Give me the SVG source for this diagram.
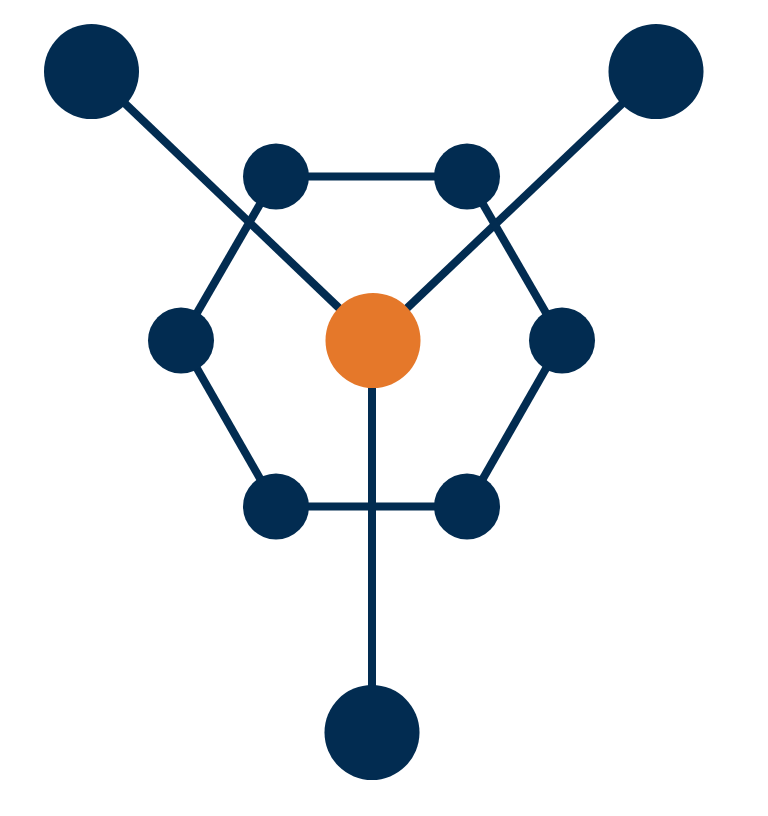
<svg xmlns="http://www.w3.org/2000/svg" width="768" height="816" viewBox="0 0 768 816">
<style>
.e{stroke:#022C51;stroke-width:8;fill:none}
.n{fill:#022C51}
.c{fill:#E5782A}
</style>
<rect width="768" height="816" fill="#ffffff"/>
<g id="connectors">
<line class="e" x1="91.5" y1="71.5" x2="373" y2="340.5"/>
<line class="e" x1="656" y1="71.5" x2="373" y2="340.5"/>
<line class="e" x1="372" y1="340.5" x2="372" y2="732.5"/>
<line class="e" x1="276" y1="176.5" x2="467" y2="176.5"/>
<line class="e" x1="467" y1="176.5" x2="562" y2="340.5"/>
<line class="e" x1="562" y1="340.5" x2="467" y2="506.5"/>
<line class="e" x1="467" y1="506.5" x2="276" y2="506.5"/>
<line class="e" x1="276" y1="506.5" x2="181" y2="340.5"/>
<line class="e" x1="181" y1="340.5" x2="276" y2="176.5"/>
</g>
<g id="n-tl"><circle class="n" cx="91.5" cy="71.5" r="47.5"/></g>
<g id="n-tr"><circle class="n" cx="656" cy="71.5" r="47.5"/></g>
<g id="n-bottom"><circle class="n" cx="372" cy="732.5" r="47.5"/></g>
<g id="n-h1"><circle class="n" cx="276" cy="176.5" r="33"/></g>
<g id="n-h2"><circle class="n" cx="467" cy="176.5" r="33"/></g>
<g id="n-h3"><circle class="n" cx="562" cy="340.5" r="33"/></g>
<g id="n-h4"><circle class="n" cx="467" cy="506.5" r="33"/></g>
<g id="n-h5"><circle class="n" cx="276" cy="506.5" r="33"/></g>
<g id="n-h6"><circle class="n" cx="181" cy="340.5" r="33"/></g>
<g id="n-center"><circle class="c" cx="373" cy="340.5" r="47.5"/></g>
</svg>
